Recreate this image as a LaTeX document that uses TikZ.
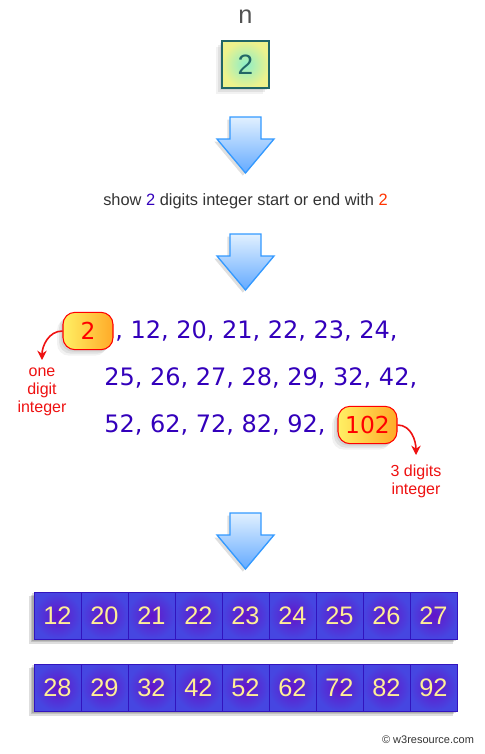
\documentclass[tikz,border=0pt]{standalone}
\usepackage{fontspec}
\setmainfont{Liberation Sans}
\newfontfamily\numfont{DejaVu Sans}
\usetikzlibrary{arrows.meta,shadows,backgrounds}

\definecolor{numblue}{HTML}{3300BB}
\definecolor{lblred}{HTML}{EE1111}
\definecolor{txtgray}{HTML}{333333}
\definecolor{hotred}{HTML}{FF3300}
\definecolor{boxteal}{HTML}{226666}

\tikzset{
  softshadow/.style={
    drop shadow={shadow xshift=-1.5pt,shadow yshift=-1.5pt,opacity=0.15},
    drop shadow={shadow xshift=-3pt,shadow yshift=-3pt,opacity=0.15},
    drop shadow={shadow xshift=-4.5pt,shadow yshift=-4.5pt,opacity=0.1}}
}

\begin{document}
\begin{tikzpicture}[x=0.75pt,y=-0.75pt,
    nbox/.style={draw=boxteal,line width=1pt,minimum size=35.25pt,inner sep=0pt,
      inner color={rgb,255:red,140;green,238;blue,200},outer color={rgb,255:red,238;green,242;blue,140},
      text=boxteal,font=\fontsize{21}{22}\selectfont,softshadow},
    bigarrow/.style={draw={rgb,255:red,51;green,153;blue,255},line width=1pt,line join=miter,
      top color={rgb,255:red,225;green,240;blue,255},bottom color={rgb,255:red,100;green,170;blue,255},
      drop shadow={shadow xshift=-2pt,shadow yshift=-2pt,opacity=0.25}},
    pill/.style={draw=red,line width=0.8pt,rounded corners=9pt,inner sep=0pt,minimum height=28pt,
      left color={rgb,255:red,255;green,240;blue,100},right color={rgb,255:red,255;green,170;blue,40},
      text=red,font=\numfont\fontsize{17.5}{20}\selectfont,softshadow},
    numline/.style={anchor=base west,inner sep=0pt,text=numblue,font=\numfont\fontsize{18}{20}\selectfont},
    note/.style={align=center,text=lblred,font=\fontsize{12}{13.5}\selectfont},
    link/.style={draw=lblred,line width=1.2pt,-{Stealth[length=7pt,width=7pt]}},
    cell/.style={draw={rgb,255:red,50;green,20;blue,190},line width=0.6pt,minimum width=35.25pt,
      minimum height=35.25pt,inner sep=0pt,
      inner color={rgb,255:red,100;green,20;blue,200},outer color={rgb,255:red,70;green,70;blue,225},
      text={rgb,255:red,255;green,238;blue,150},font=\fontsize{19}{20}\selectfont},
    rowshade/.style={fill=black,opacity=0.13}]
  \useasboundingbox (0,0) rectangle (485,754);

  % input
  \node[text=txtgray!85,font=\fontsize{19}{20}\selectfont] (n) at (245.5,17) {n};
  \node[nbox] (nval) at (245.5,64.5) {2};

  % arrows
  \foreach \y in {117,234,513}
    \draw[bigarrow] (230,\y) -- (261,\y) -- (261,\y+22) -- (274,\y+22) -- (245.5,\y+56)
      -- (217,\y+22) -- (230,\y+22) -- cycle;

  \node[text=txtgray,font=\fontsize{12.3}{14}\selectfont] (task) at (245.5,201)
    {show {\color{numblue}2} digits integer start or end with {\color{hotred}2}};

  % the numbers
  \node[pill,minimum width=37.5pt] (one) at (88,331) {2};
  \node[numline] (l1) at (115,338) {, 12, 20, 21, 22, 23, 24,};
  \node[numline] (l2) at (104,385) {25, 26, 27, 28, 29, 32, 42,};
  \node[numline] (l3) at (104,432) {52, 62, 72, 82, 92,};
  \node[pill,minimum width=44.25pt] (three) at (367.5,425) {102};

  \coordinate (c1) at (42,360);
  \coordinate (c2) at (416,455);
  \draw[link] (one.west) to[out=180,in=90] (c1);
  \draw[link] (three.east) to[out=0,in=90] (c2);
  \node[note] (t1) at (42,392) {one\\digit\\integer};
  \node[note] (t2) at (416,481) {3 digits\\integer};

  % result
  \foreach \v [count=\i] in {12,20,21,22,23,24,25,26,27}
    \node[cell] (a\i) at ({34+47*(\i-0.5)},615.5) {\v};
  \foreach \v [count=\i] in {28,29,32,42,52,62,72,82,92}
    \node[cell] (b\i) at ({34+47*(\i-0.5)},687.5) {\v};
  \begin{scope}[on background layer]
    \foreach \d in {1.5,3,4.5} {
      \fill[rowshade] ([shift={(-\d,\d)}]a1.north west) rectangle ([shift={(-\d,\d)}]a9.south east);
      \fill[rowshade] ([shift={(-\d,\d)}]b1.north west) rectangle ([shift={(-\d,\d)}]b9.south east);
    }
  \end{scope}

  \node[text=txtgray,font=\fontsize{8.25}{9}\selectfont] (copy) at (428,740) {© w3resource.com};
\end{tikzpicture}
\end{document}
